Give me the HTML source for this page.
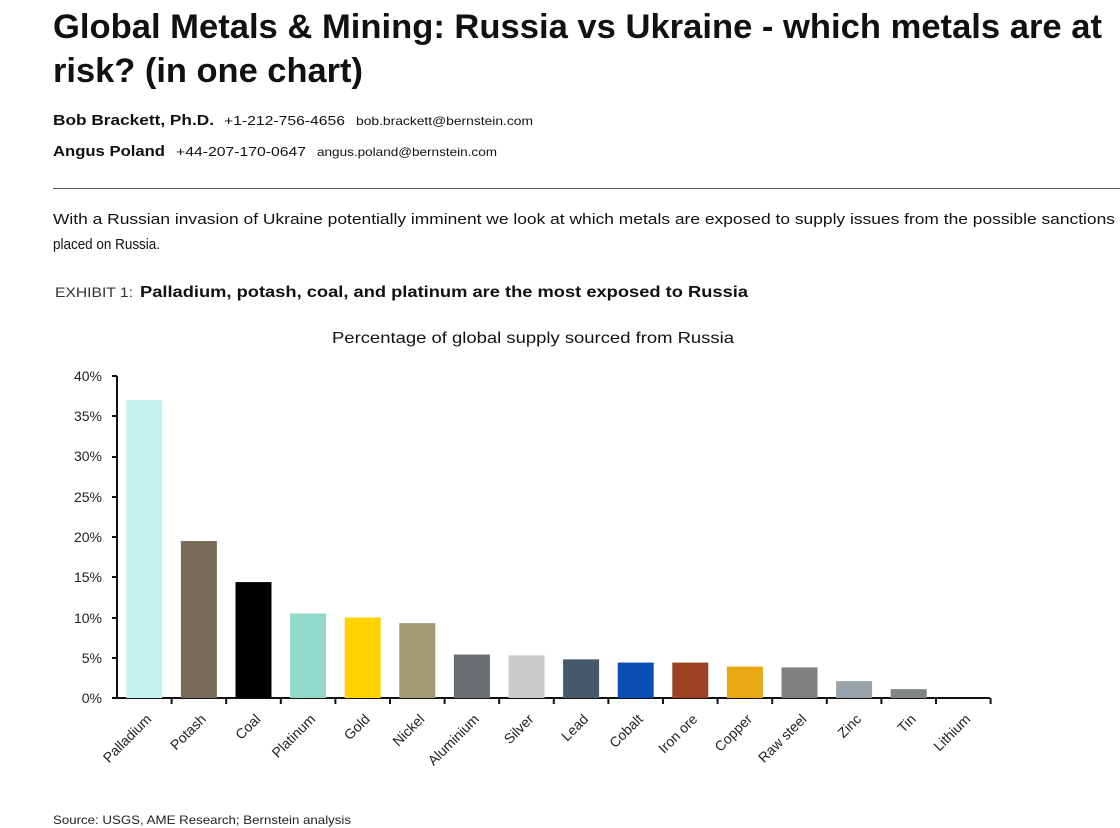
<!DOCTYPE html>
<html><head><meta charset="utf-8"><style>body{margin:0;background:#fff}svg{display:block}</style></head>
<body>
<svg width="1120" height="828" xmlns="http://www.w3.org/2000/svg" font-family="Liberation Sans, sans-serif" fill="#111">
<text x="53" y="38" font-size="34" font-weight="bold" textLength="1049" lengthAdjust="spacingAndGlyphs">Global Metals &amp; Mining: Russia vs Ukraine - which metals are at</text>
<text x="53" y="82" font-size="34" font-weight="bold" textLength="310" lengthAdjust="spacingAndGlyphs">risk? (in one chart)</text>
<text x="53" y="125" font-size="15" font-weight="bold" textLength="161" lengthAdjust="spacingAndGlyphs">Bob Brackett, Ph.D.</text>
<text x="224" y="125" font-size="13" textLength="121" lengthAdjust="spacingAndGlyphs">+1-212-756-4656</text>
<text x="356" y="125" font-size="12" textLength="177" lengthAdjust="spacingAndGlyphs">bob.brackett@bernstein.com</text>
<text x="53" y="156" font-size="15" font-weight="bold" textLength="112" lengthAdjust="spacingAndGlyphs">Angus Poland</text>
<text x="176" y="156" font-size="13" textLength="130" lengthAdjust="spacingAndGlyphs">+44-207-170-0647</text>
<text x="317" y="156" font-size="12" textLength="180" lengthAdjust="spacingAndGlyphs">angus.poland@bernstein.com</text>
<line x1="53" y1="188.5" x2="1120" y2="188.5" stroke="#555" stroke-width="1"/>
<text x="53" y="224" font-size="15" textLength="1062" lengthAdjust="spacingAndGlyphs">With a Russian invasion of Ukraine potentially imminent we look at which metals are exposed to supply issues from the possible sanctions</text>
<text x="53" y="249" font-size="15" textLength="107" lengthAdjust="spacingAndGlyphs">placed on Russia.</text>
<text x="55" y="297" font-size="14" fill="#333" textLength="78" lengthAdjust="spacingAndGlyphs">EXHIBIT 1:</text>
<text x="140" y="297" font-size="16" font-weight="bold" textLength="608" lengthAdjust="spacingAndGlyphs">Palladium, potash, coal, and platinum are the most exposed to Russia</text>
<text x="533" y="343" font-size="16" text-anchor="middle" textLength="402" lengthAdjust="spacingAndGlyphs">Percentage of global supply sourced from Russia</text>
<g font-size="14" text-anchor="end" fill="#222">
<text x="102" y="381">40%</text><text x="102" y="421">35%</text><text x="102" y="461">30%</text><text x="102" y="502">25%</text><text x="102" y="542">20%</text><text x="102" y="582">15%</text><text x="102" y="623">10%</text><text x="102" y="663">5%</text><text x="102" y="703">0%</text>
</g>
<g stroke="#111" stroke-width="2">
<line x1="117" y1="376" x2="117" y2="699"/>
<line x1="112" y1="376" x2="117" y2="376"/><line x1="112" y1="416" x2="117" y2="416"/><line x1="112" y1="457" x2="117" y2="457"/><line x1="112" y1="497" x2="117" y2="497"/><line x1="112" y1="537" x2="117" y2="537"/><line x1="112" y1="577" x2="117" y2="577"/><line x1="112" y1="618" x2="117" y2="618"/><line x1="112" y1="658" x2="117" y2="658"/>
<line x1="112" y1="698" x2="990" y2="698"/>
</g>
<g id="bars"></g>
<g id="ticks" stroke="#111" stroke-width="2"></g>
<g id="labels" font-size="14" text-anchor="end" fill="#222"></g>
<text x="53" y="824" font-size="12" fill="#222" textLength="298" lengthAdjust="spacingAndGlyphs">Source: USGS, AME Research; Bernstein analysis</text>
<script>
var d=[["Palladium",37,"#c4f2ee"],["Potash",19.5,"#7a6c58"],["Coal",14.4,"#000"],["Platinum",10.5,"#93d9c9"],["Gold",10,"#ffd200"],["Nickel",9.3,"#a39874"],["Aluminium",5.4,"#686d70"],["Silver",5.3,"#cacaca"],["Lead",4.8,"#455a6b"],["Cobalt",4.4,"#0a4db5"],["Iron ore",4.4,"#9a4223"],["Copper",3.9,"#e8a812"],["Raw steel",3.8,"#808080"],["Zinc",2.1,"#99a3ab"],["Tin",1.1,"#7d8683"],["Lithium",0,"#fff"]];
var ns="http://www.w3.org/2000/svg",w=54.6,x0=117,b=document.getElementById("bars"),t=document.getElementById("ticks"),l=document.getElementById("labels");
d.forEach(function(e,i){var cx=x0+w*(i+0.5),h=e[1]*8.05;
var r=document.createElementNS(ns,"rect");r.setAttribute("x",cx-18);r.setAttribute("y",698-h);r.setAttribute("width",36);r.setAttribute("height",h);r.setAttribute("fill",e[2]);b.appendChild(r);
var k=document.createElementNS(ns,"line");var tx=x0+w*(i+1);k.setAttribute("x1",tx);k.setAttribute("x2",tx);k.setAttribute("y1",698);k.setAttribute("y2",704);t.appendChild(k);
var s=document.createElementNS(ns,"text");s.setAttribute("transform","translate("+(cx+8)+",720) rotate(-45)");s.textContent=e[0];l.appendChild(s);});
</script>
</svg>
</body></html>
